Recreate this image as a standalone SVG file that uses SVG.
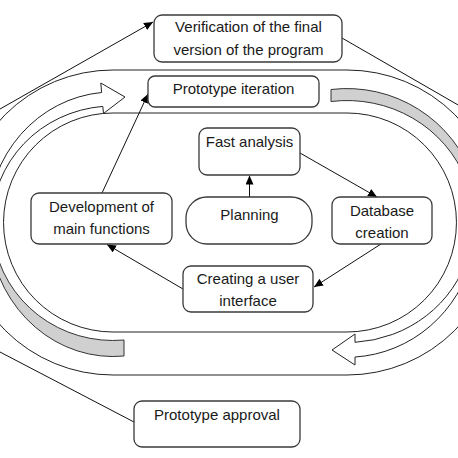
<svg xmlns="http://www.w3.org/2000/svg" width="458" height="458" viewBox="0 0 458 458">
<defs>
<style>
.ring{fill:none;stroke:#222;stroke-width:1}
.band{fill:#d0d0d0;stroke:#333;stroke-width:1}
.hollow{fill:#fff;stroke:#222;stroke-width:1}
.box{fill:#fff;stroke:#3a3a3a;stroke-width:1.3}
.con{fill:none;stroke:#111;stroke-width:1}
.arr{marker-end:url(#ah)}
text{font-family:"Liberation Sans",Arial,sans-serif;font-size:15px;fill:#1a1a1a;text-anchor:middle}
</style>
<marker id="ah" markerWidth="9" markerHeight="8" refX="9" refY="4" orient="auto" markerUnits="userSpaceOnUse">
<path d="M0,0 L9,4 L0,8 Z" fill="#000"/>
</marker>
</defs>
<rect width="458" height="458" fill="#fff"/>
<g id="cycle">
<path class="ring" d="M113 70 L347 70 A152.5 152.5 0 0 1 347 375 L113 375 A152.5 152.5 0 0 1 113 70 Z"/>
<path class="ring" d="M113 113 L347 113 A109.5 109.5 0 0 1 347 332 L113 332 A109.5 109.5 0 0 1 113 113 Z"/>
<path class="band" d="M331 89.5 A134 134 0 0 1 474 180 L466 180 A127 122 0 0 0 331 101.5 Z"/>
<path class="band" d="M124 340 A120.7 118 0 0 1 -6.4 240 L-10.4 240 A124.5 134 0 0 0 124 356 Z"/>
<path class="hollow" d="M-8 222.5 A121 116.5 0 0 1 102.8 106.4 L103.5 113.5 L125 97 L100.8 83 L101.6 92.5 A125 130.5 0 0 0 -12 222.5 Z"/>
<path class="hollow" d="M468.3 255 A126 120 0 0 1 355 342.3 L355 334 L332 350 L355 365 L355 357 A130 134.75 0 0 0 473.2 255 Z"/>
</g>
<g id="connectors">
<line class="con arr" x1="-10" y1="114.7" x2="153" y2="22"/>
<line class="con" x1="342" y1="38" x2="472" y2="113"/>
<line class="con" x1="-10" y1="346.8" x2="134" y2="422"/>
<line class="con arr" x1="102" y1="193" x2="148" y2="94"/>
<line class="con arr" x1="249.5" y1="197" x2="249.5" y2="175.5"/>
<line class="con arr" x1="300" y1="153" x2="377" y2="197"/>
<line class="con arr" x1="381" y1="244" x2="314" y2="287"/>
<line class="con arr" x1="183" y1="289" x2="107" y2="244.5"/>
</g>
<g id="node-verification">
<rect class="box" x="154" y="15" width="188" height="47" rx="8"/>
<text x="248.5" y="32">Verification of the final</text>
<text x="248.5" y="55">version of the program</text>
</g>
<g id="node-iteration">
<rect class="box" x="148" y="76" width="171" height="31" rx="7"/>
<text x="233.5" y="94">Prototype iteration</text>
</g>
<g id="node-fast-analysis">
<rect class="box" x="199" y="128" width="101" height="47" rx="8"/>
<text x="249.5" y="147">Fast analysis</text>
</g>
<g id="node-planning">
<rect class="box" x="186" y="197" width="126" height="47" rx="21"/>
<text x="249.5" y="220">Planning</text>
</g>
<g id="node-database">
<rect class="box" x="332" y="197" width="100" height="47" rx="8"/>
<text x="382" y="216">Database</text>
<text x="382" y="238">creation</text>
</g>
<g id="node-development">
<rect class="box" x="31" y="193" width="141" height="51" rx="8"/>
<text x="101.5" y="212">Development of</text>
<text x="101.5" y="234">main functions</text>
</g>
<g id="node-interface">
<rect class="box" x="183" y="266" width="130" height="46" rx="8"/>
<text x="248" y="284">Creating a user</text>
<text x="248" y="306">interface</text>
</g>
<g id="node-approval">
<rect class="box" x="134" y="401" width="166" height="46" rx="8"/>
<text x="217" y="420">Prototype approval</text>
</g>
</svg>
